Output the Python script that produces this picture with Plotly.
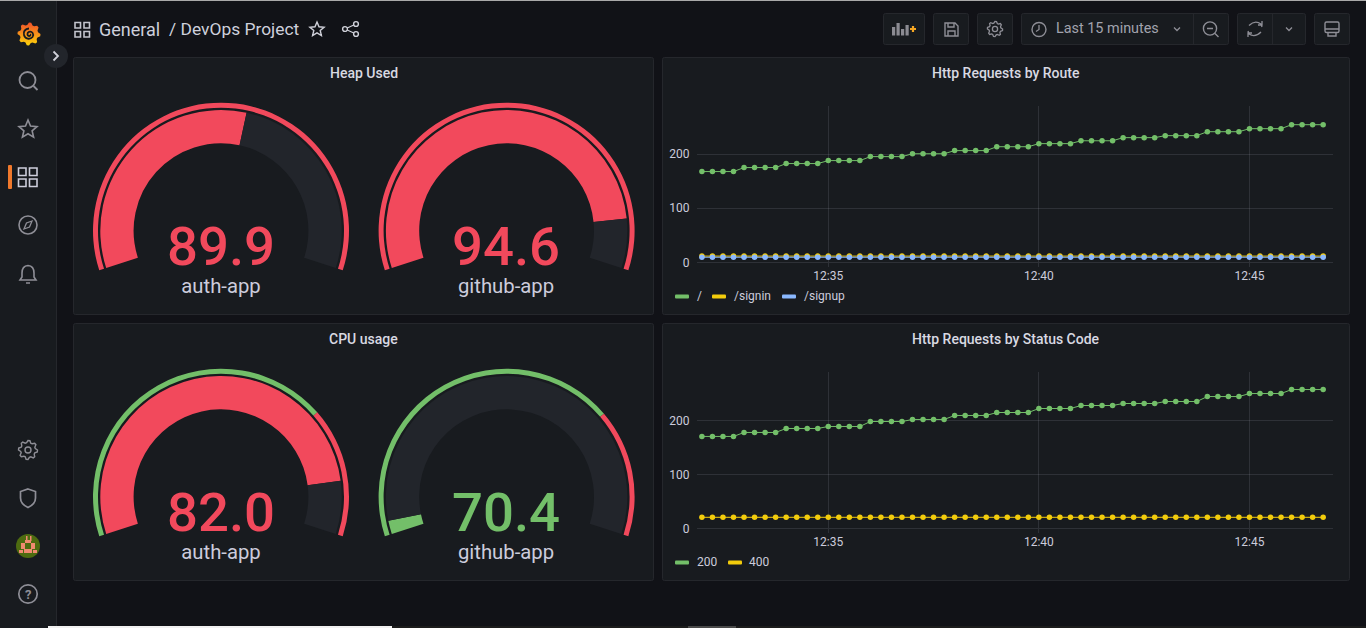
import base64
import math

import pandas as pd
import plotly.graph_objects as go

W, H = 1366, 628

RED = "#f2495c"
GREEN = "#73bf69"
YELLOW = "#f2cc0c"
BLUE = "#8ab8ff"
TRACK = "#22252b"
PAGE_BG = "#111217"
PANEL_BG = "#181b1f"
BORDER = "#25272c"
TEXT = "#ccccdc"
ICON = "#8e8e96"

# gauges
gauge_names = ["auth-app", "github-app", "auth-app", "github-app"]
gauge_values = [89.9, 94.6, 82.0, 70.4]
gauge_mins = [0, 0, 0, 70]
gauge_maxs = [161.5, 106.3, 93, 83.3]
gauge_thresholds = [0, 0, 67.5, 79.7]

# time series, one point every 15 s
times = pd.date_range("2022-05-20 12:32:00", periods=60, freq="15s")
route_root = [
    168, 168, 168, 168, 175.4, 175.4, 175.4, 175.4, 182.8, 182.8, 182.8, 182.8,
    188.3, 188.3, 188.3, 188.3, 195.7, 195.7, 195.7, 195.7, 201, 201, 201, 201,
    206.8, 206.8, 206.8, 206.8, 214, 214, 214, 214, 219.7, 219.7, 219.7, 219.7,
    225, 225, 225, 225, 230.8, 230.8, 230.8, 230.8, 234.5, 234.5, 234.5, 234.5,
    241.8, 241.8, 241.8, 241.8, 247.4, 247.4, 247.4, 247.4, 254.8, 254.8, 254.8, 254.8,
]
route_signin = [11.5] * 60
route_signup = [9.4] * 60
status_200 = [
    170.4, 170.4, 170.4, 170.4, 177.8, 177.8, 177.8, 177.8, 185.2, 185.2, 185.2, 185.2,
    188.9, 188.9, 188.9, 188.9, 198.1, 198.1, 198.1, 198.1, 201.9, 201.9, 201.9, 201.9,
    209.3, 209.3, 209.3, 209.3, 214.8, 214.8, 214.8, 214.8, 222.2, 222.2, 222.2, 222.2,
    227.8, 227.8, 227.8, 227.8, 231.5, 231.5, 231.5, 231.5, 235.2, 235.2, 235.2, 235.2,
    244.4, 244.4, 244.4, 244.4, 250, 250, 250, 250, 257.4, 257.4, 257.4, 257.4,
]
status_400 = [20.4] * 60

y_ticks = [0, 100, 200]
x_ticks = ["2022-05-20 12:35", "2022-05-20 12:40", "2022-05-20 12:45"]
x_range = ["2022-05-20 12:31:53", "2022-05-20 12:46:59"]
y_range = [0, 289.4]

fig = go.Figure()
shapes = []
annotations = []


def text(x, y, s, size=12, color=TEXT, anchor="left", weight=400):
    annotations.append(dict(
        x=x, y=y, text=s, xref="x", yref="y", showarrow=False, xanchor=anchor, yanchor="middle",
        font=dict(family="Roboto", size=size, color=color, weight=weight), borderpad=0, borderwidth=0,
    ))


def rounded(x0, y0, x1, y1, r=2):
    return (
        f"M{x0+r},{y0} L{x1-r},{y0} Q{x1},{y0} {x1},{y0+r} L{x1},{y1-r} Q{x1},{y1} {x1-r},{y1} "
        f"L{x0+r},{y1} Q{x0},{y1} {x0},{y1-r} L{x0},{y0+r} Q{x0},{y0} {x0+r},{y0} Z"
    )


def box(x0, y0, x1, y1, fill=PANEL_BG, line=BORDER, r=2, layer="below"):
    shapes.append(dict(type="path", path=rounded(x0, y0, x1, y1, r), xref="x", yref="y", fillcolor=fill,
                       line=dict(color=line, width=1 if line else 0), layer=layer))


def stroke(path, color=ICON, width=1.6, fill="rgba(0,0,0,0)"):
    shapes.append(dict(type="path", path=path, xref="x", yref="y", fillcolor=fill,
                       line=dict(color=color, width=width), layer="above"))


def circle(cx, cy, r, color=ICON, width=1.6, fill="rgba(0,0,0,0)"):
    shapes.append(dict(type="circle", x0=cx-r, x1=cx+r, y0=cy-r, y1=cy+r, xref="x", yref="y", fillcolor=fill,
                       line=dict(color=color, width=width), layer="above"))


def star(cx, cy, r):
    pts = []
    for i in range(10):
        rad = r if i % 2 == 0 else r * 0.45
        a = -math.pi / 2 + i * math.pi / 5
        pts.append(f"{cx + rad * math.cos(a):.1f},{cy + rad * math.sin(a):.1f}")
    return "M" + " L".join(pts) + " Z"


def gear(cx, cy, r, teeth=8):
    pts = []
    for i in range(teeth * 4):
        a = i * 2 * math.pi / (teeth * 4)
        rad = r if i % 4 in (0, 1) else r * 0.78
        pts.append(f"{cx + rad * math.cos(a):.1f},{cy + rad * math.sin(a):.1f}")
    return "M" + " L".join(pts) + " Z"


def grid_icon(x, y, s, gap, color):
    for i in range(2):
        for j in range(2):
            x0 = x + i * (s + gap)
            y0 = y + j * (s + gap)
            stroke(f"M{x0},{y0} H{x0+s} V{y0+s} H{x0} Z", color=color, width=1.6)


# page frame
shapes.append(dict(type="rect", x0=0, x1=56, y0=0, y1=628, xref="x", yref="y", fillcolor=PANEL_BG,
                   line=dict(width=0), layer="below"))
shapes.append(dict(type="line", x0=56.5, x1=56.5, y0=0, y1=628, xref="x", yref="y",
                   line=dict(color=BORDER, width=1), layer="below"))
shapes.append(dict(type="rect", x0=0, x1=1366, y0=0, y1=1, xref="x", yref="y", fillcolor="#a9a9a9",
                   line=dict(width=0), layer="above"))
shapes.append(dict(type="rect", x0=392, x1=1366, y0=626, y1=628, xref="x", yref="y", fillcolor="#1c1c1c",
                   line=dict(width=0), layer="above"))
shapes.append(dict(type="rect", x0=48, x1=392, y0=626, y1=628, xref="x", yref="y", fillcolor="#f1f1f1",
                   line=dict(width=0), layer="above"))
shapes.append(dict(type="rect", x0=688, x1=736, y0=626, y1=628, xref="x", yref="y", fillcolor="#4a4a4a",
                   line=dict(width=0), layer="above"))

# panels
panels = [
    (73, 57, 654, 315, "Heap Used"),
    (662, 57, 1350, 315, "Http Requests by Route"),
    (73, 323, 654, 581, "CPU usage"),
    (662, 323, 1350, 581, "Http Requests by Status Code"),
]
for x0, y0, x1, y1, title in panels:
    box(x0 + 0.5, y0 + 0.5, x1 - 0.5, y1 - 0.5)
    text((x0 + x1) / 2, y0 + 16, title, size=14, color="#d8d9e2", anchor="center", weight=500)

# gauges
gauge_centers = [(221, 230.7), (506.6, 230.7), (221, 496.7), (506.6, 496.7)]
OUTER_R, RING_IN, BAND_OUT, BAND_IN = 128, 123, 120.7, 87.4

for i, (cx, cy) in enumerate(gauge_centers):
    low, high = gauge_mins[i], gauge_maxs[i]
    value = gauge_values[i]
    color = RED if value > gauge_thresholds[i] else GREEN
    gap = (high - low) * 144 / 216
    for r, hole, vals, colors in [
        (BAND_OUT, BAND_IN / BAND_OUT, [value - low, high - value, gap], [color, TRACK, "rgba(0,0,0,0)"]),
        (OUTER_R, RING_IN / OUTER_R, [gauge_thresholds[i] - low, high - gauge_thresholds[i], gap],
         [GREEN, RED, "rgba(0,0,0,0)"]),
    ]:
        fig.add_trace(go.Pie(
            values=vals, hole=hole, sort=False, direction="clockwise", rotation=252, textinfo="none",
            hoverinfo="skip", showlegend=False, marker=dict(colors=colors, line=dict(width=0)),
            domain=dict(x=[(cx - r) / W, (cx + r) / W], y=[1 - (cy + r) / H, 1 - (cy - r) / H]),
        ))
    # value and name share one block, the line step comes from the base size
    label = (
        f'<span style="font-size:54.5px;font-weight:500;fill:{color}">{value:.1f}</span><br>'
        f'<span style="font-size:20.3px">{gauge_names[i]}</span>'
    )
    text(cx - 0.5, cy + 25.7, label, size=21.7, color=TEXT, anchor="center")

# time series
series_sets = [
    ("x2", "y2", [("/", route_root, GREEN), ("/signin", route_signin, YELLOW), ("/signup", route_signup, BLUE)]),
    ("x3", "y3", [("200", status_200, GREEN), ("400", status_400, YELLOW)]),
]
for xa, ya, series in series_sets:
    for name, vals, color in series:
        fig.add_trace(go.Scatter(
            x=times, y=vals, name=name, xaxis=xa, yaxis=ya, mode="lines+markers", showlegend=False,
            line=dict(color=color, width=1), marker=dict(color=color, size=5.5, line=dict(width=0)),
        ))

axis_font = dict(family="Roboto", size=12, color=TEXT)
grid = "rgba(204,204,220,0.13)"


def x_axis(anchor):
    return dict(
        type="date", domain=[697 / W, 1333 / W], range=x_range, anchor=anchor, tickvals=x_ticks,
        tickformat="%H:%M", tickfont=axis_font, showgrid=True, gridcolor=grid, gridwidth=1, zeroline=False,
        ticks="outside", ticklen=4, tickcolor=grid, showline=True, linecolor=grid, linewidth=1, fixedrange=True,
        ticklabelstandoff=-2,
    )


def y_axis(anchor, top, bottom):
    return dict(
        domain=[1 - bottom / H, 1 - top / H], range=y_range, anchor=anchor, tickvals=y_ticks, tickfont=axis_font,
        showgrid=True, gridcolor=grid, gridwidth=1, zeroline=False, ticks="outside", ticklen=4,
        tickcolor="rgba(0,0,0,0)", showline=False, fixedrange=True,
    )


# legends
legend_rows = [
    (296.5, [(675, "/", GREEN, 697), (712, "/signin", YELLOW, 734), (782, "/signup", BLUE, 804)]),
    (562.5, [(675, "200", GREEN, 697), (728, "400", YELLOW, 749)]),
]
for y, items in legend_rows:
    for key_x, label, color, label_x in items:
        shapes.append(dict(type="path", path=rounded(key_x, y - 2, key_x + 14, y + 2, 1), xref="x", yref="y",
                           fillcolor=color, line=dict(width=0), layer="above"))
        text(label_x, y - 0.5, label, size=12)

# header
grid_icon(75, 22.5, 5.5, 3.5, "#c3c4cd")
text(99, 29, "General", size=18, color="#ced0dc")
text(169, 29, "/ DevOps Project", size=17.4, color="#ced0dc")
stroke(star(317, 29.5, 7.5), color="#d0d1da", width=1.4)
circle(345, 29, 2.4, color="#d0d1da", width=1.4)
circle(356, 24, 2.4, color="#d0d1da", width=1.4)
circle(356, 34, 2.4, color="#d0d1da", width=1.4)
stroke("M347.2,28 L353.8,25 M347.2,30 L353.8,33", color="#d0d1da", width=1.2)

# toolbar
for x0, x1 in [(883.5, 924.5), (933.5, 968.5), (977.5, 1012.5), (1021.5, 1228.5), (1237.5, 1305.5), (1314.5, 1349.5)]:
    box(x0, 13.5, x1, 44.5, fill=PANEL_BG, line=BORDER, layer="above")
for x in [1193.5, 1272.5]:
    stroke(f"M{x},14 V44", color=BORDER, width=1)
for bx, by in [(892, 27), (896.5, 23), (901, 29), (905.5, 25)]:
    shapes.append(dict(type="rect", x0=bx, x1=bx + 3.2, y0=by, y1=35.5, xref="x", yref="y", fillcolor="#8b8b92",
                       line=dict(width=0), layer="above"))
stroke("M910,29 H916 M913,26 V32", color="#f5a623", width=2.2)
stroke("M945,23 H955 L958,26 V36 H945 Z M948,23 V27 H954 V23 M948,36 V31 H955 V36", width=1.4)
stroke(gear(995, 29, 7.6), width=1.3)
circle(995, 29, 2.6, width=1.3)
circle(1039, 29.5, 7, width=1.4)
stroke("M1039,25 V29.5 L1036,31.5", width=1.3)
text(1056, 28.5, "Last 15 minutes", size=14.4, color="#a2a3ae")
stroke("M1174,27.5 L1177,30.5 L1180,27.5", width=1.3)
circle(1210, 28.5, 6.6, width=1.4)
stroke("M1207,28.5 H1213 M1215,33.5 L1218.5,37", width=1.4)
stroke("M1249,25.5 Q1255,19.5 1261,24 L1262,27 M1262,21 V25 H1258 M1261,32 Q1255,38 1249,34 L1248,31 M1248,37 V33 H1252", width=1.3)
stroke("M1286,27.5 L1289,30.5 L1292,27.5", width=1.3)
stroke(rounded(1325, 22, 1339, 32.5, 1.5) + " M1325,29 H1339 M1328,36 H1336 V32.5 H1328 Z", width=1.4)

# sidebar
circle(27.5, 80, 8, width=1.8)
stroke("M33.5,86 L37.5,90", width=1.8)
stroke(star(28, 129.5, 9.5), width=1.6)
shapes.append(dict(type="path", path=rounded(8, 165, 12, 189, 1), xref="x", yref="y", fillcolor="#f0792c",
                   line=dict(width=0), layer="above"))
grid_icon(18.5, 168, 7.5, 3.5, "#cdcedb")
circle(28, 225, 9, width=1.6)
stroke("M32,221 L29.5,227 L24,229 L26.5,223 Z", width=1.3)
stroke("M28,265.5 Q34,266 34,273 V277 L36,280 H20 L22,277 V273 Q22,266 28,265.5 Z M26,283 H30", width=1.6)
circle(28, 450, 3, width=1.4)
stroke(gear(28, 450, 9.5), width=1.4)
stroke("M28,489 L35.5,491.5 V498 Q35.5,504 28,507.5 Q20.5,504 20.5,498 V491.5 Z", width=1.7)
circle(28, 546, 12, color="#4d6b10", width=0, fill="#4d6b10")
for ax, ay, aw, ah in [(21, 543, 4, 6), (31, 543, 4, 6), (25, 540, 6, 3), (24, 549, 8, 4), (19, 550, 4, 3), (33, 550, 4, 3),
                       (26, 536, 1.5, 5), (30, 536, 1.5, 5)]:
    shapes.append(dict(type="rect", x0=ax, x1=ax + aw, y0=ay, y1=ay + ah, xref="x", yref="y", fillcolor="#f08a70",
                       line=dict(width=0), layer="above"))
circle(28, 594, 9.2, width=1.7)
text(28, 594, "?", size=13, color=ICON, anchor="center", weight=700)
circle(56, 56, 12, color="#22252b", width=0, fill="#22252b")
stroke("M53.5,51.5 L58,56 L53.5,60.5", color="#d0d1da", width=1.8)

# logo
logo_pts = []
for i in range(32):
    a = i * 2 * math.pi / 32
    rad = 11.5 if i % 4 in (0, 1) else 9.2
    logo_pts.append(f"{12 + rad * math.cos(a):.2f},{12 + rad * math.sin(a):.2f}")
logo_svg = (
    '<svg xmlns="http://www.w3.org/2000/svg" width="24" height="24" viewBox="0 0 24 24">'
    '<defs><linearGradient id="g" x1="0" y1="1" x2="0" y2="0"><stop offset="0" stop-color="#fcd40a"/>'
    '<stop offset="1" stop-color="#f0502a"/></linearGradient></defs>'
    f'<polygon points="{" ".join(logo_pts)}" fill="url(#g)"/>'
    '<path d="M12 6.5 C8 6.5 6 10 7 13 C8 17 13 18 15.5 15 C17.5 12 15 8.8 12 9.8 C9.8 10.6 10 14 12.3 14 '
    'C13.6 14 13.8 12.6 13 12.2" fill="none" stroke="#181b1f" stroke-width="1.8"/></svg>'
)

fig.update_layout(
    width=W,
    height=H,
    autosize=False,
    margin=dict(l=0, r=0, t=0, b=0, pad=0, autoexpand=False),
    paper_bgcolor=PAGE_BG,
    plot_bgcolor="rgba(0,0,0,0)",
    font=dict(family="Roboto", color=TEXT),
    showlegend=False,
    shapes=shapes,
    annotations=annotations,
    images=[dict(
        source="data:image/svg+xml;base64," + base64.b64encode(logo_svg.encode()).decode(),
        xref="x", yref="y", x=17, y=22, sizex=24, sizey=24, xanchor="left", yanchor="top", layer="above",
    )],
    xaxis=dict(domain=[0, 1], range=[0, W], visible=False, fixedrange=True, anchor="y"),
    yaxis=dict(domain=[0, 1], range=[H, 0], visible=False, fixedrange=True, anchor="x"),
    xaxis2=x_axis("y2"),
    yaxis2=y_axis("x2", 106, 262.3),
    xaxis3=x_axis("y3"),
    yaxis3=y_axis("x3", 372.3, 528.3),
)

fig.write_html(
    "out.html",
    config={"displayModeBar": False},
    post_script=f"document.body.style.margin='0';document.body.style.overflow='hidden';document.body.style.background='{PAGE_BG}';",
)
